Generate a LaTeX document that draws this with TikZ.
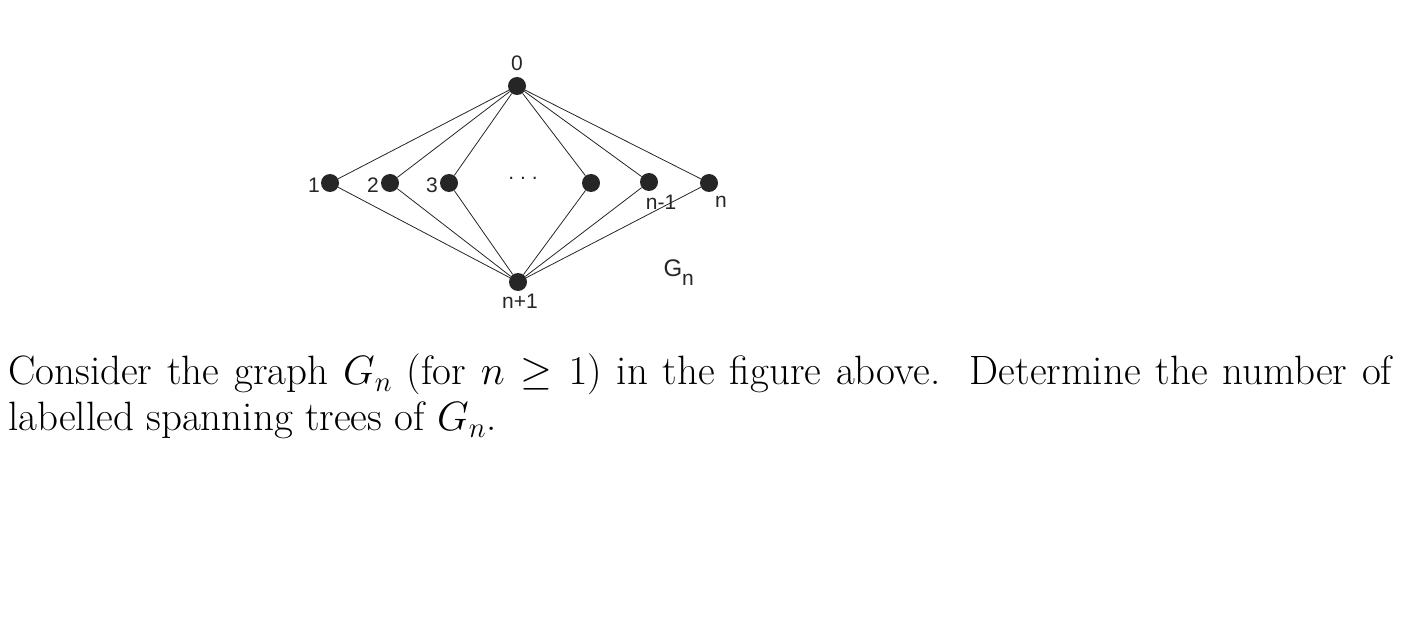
\RequirePackage{fix-cm}
\documentclass[tikz,border=0pt]{standalone}
\usepackage{fontspec}
\newfontfamily\lab{Liberation Sans}
\begin{document}
\begin{tikzpicture}[x=1pt,y=-1pt,
  vtx/.style={circle,fill=black!85,inner sep=0pt,minimum size=18pt},
  lbl/.style={font=\lab\fontsize{21}{24}\selectfont,inner sep=0pt,text=black!85},
  edge/.style={line width=0.8pt,black!85}]
\useasboundingbox (0,0) rectangle (1420,620);
\node[vtx] (v0) at (517,86) {};
\node[vtx] (v1) at (330,183) {};
\node[vtx] (v2) at (390,183) {};
\node[vtx] (v3) at (449,183) {};
\node[vtx] (v4) at (591,183) {};
\node[vtx] (v5) at (649,182) {};
\node[vtx] (v6) at (709,183) {};
\node[vtx] (vb) at (518,282) {};
\foreach \i in {1,...,6}{\draw[edge] (v0) -- (v\i); \draw[edge] (vb) -- (v\i);}
\node[lbl] (l0) at (517,63) {0};
\node[lbl] (l1) at (314,185) {1};
\node[lbl] (l2) at (373,185) {2};
\node[lbl] (l3) at (432,185) {3};
\node[lbl] (ld) at (523,178) {.\hspace{6pt}.\hspace{6pt}.};
\node[lbl] (l5) at (661,202) {n-1};
\node[lbl] (l6) at (721,202) {n};
\node[lbl] (lb) at (520,301) {n+1};
\node[lbl,font=\lab\fontsize{24}{26}\selectfont] (g) at (673,268) {G};
\node[lbl] (gn) at (688,280) {n};
\node[anchor=north west,inner sep=0pt,text width=1384pt,align=justify,
  font=\fontsize{41}{46}\selectfont] (txt) at (8,354)
  {Consider the graph $G_n$ (for $n\geq 1$) in the figure above.\ \ Determine the number of labelled spanning trees of $G_n$.};
\end{tikzpicture}
\end{document}
